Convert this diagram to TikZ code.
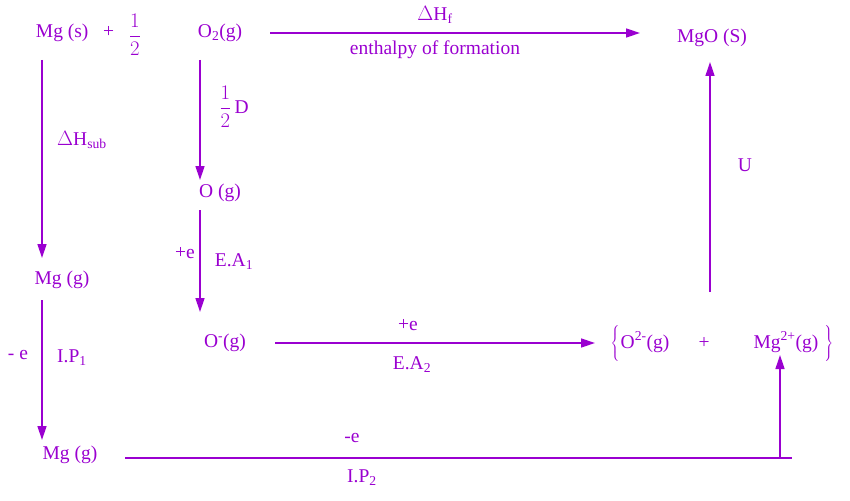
\documentclass[tikz,border=0pt]{standalone}
\usepackage{fontspec}
\setmainfont{Liberation Serif}
\usetikzlibrary{arrows.meta}
\definecolor{pu}{HTML}{9A00D0}
\begin{document}
\begin{tikzpicture}[x=1pt,y=-1pt,
  every node/.style={text=pu,font=\fontsize{19.5}{22}\selectfont,inner sep=1pt},
  arr/.style={draw=pu,line width=1.4pt,-{Triangle[length=14pt,width=9pt]}},
  ln/.style={draw=pu,line width=1.4pt}]
\useasboundingbox (0,0) rectangle (850,500);
\node (mgs) at (75,33) {Mg (s) \ \ +};
\node (half) at (135,35) {$\displaystyle\frac{1}{2}$};
\node (o2) at (220,33) {O\textsubscript{2}(g)};
\node (mgo) at (712,38) {MgO (S)};
\coordinate (a1) at (270,33); \coordinate (a2) at (640,33);
\draw[arr] (a1) -- (a2);
\node (dhf) at (435,15) {$\Delta$H\textsubscript{f}};
\node (enth) at (435,50) {enthalpy of formation};
\coordinate (m1) at (42,60); \coordinate (m2) at (42,258);
\draw[arr] (m1) -- (m2);
\node (dhs) at (82,140) {$\Delta$H\textsubscript{sub}};
\node (mgg1) at (62,280) {Mg (g)};
\coordinate (m3) at (42,300); \coordinate (m4) at (42,440);
\draw[arr] (m3) -- (m4);
\node (me) at (18,355) {- e};
\node (ip1) at (72,358) {I.P\textsubscript{1}};
\node (mgg2) at (70,455) {Mg (g)};
\coordinate (l1) at (125,458); \coordinate (l2) at (792,458); \coordinate (l3) at (780,458); \coordinate (l4) at (780,355);
\draw[ln] (l1) -- (l2);
\draw[arr] (l3) -- (l4);
\node (e2) at (352,438) {-e};
\node (ip2) at (362,478) {I.P\textsubscript{2}};
\coordinate (o1) at (200,60); \coordinate (o2b) at (200,180);
\draw[arr] (o1) -- (o2b);
\node (hd) at (234,107) {$\displaystyle\frac{1}{2}$\,D};
\node (og) at (220,193) {O (g)};
\coordinate (o3) at (200,210); \coordinate (o4) at (200,312);
\draw[arr] (o3) -- (o4);
\node (pe) at (185,253) {+e};
\node (ea1) at (234,262) {E.A\textsubscript{1}};
\node (om) at (225,343) {O\textsuperscript{-}(g)};
\coordinate (b1) at (275,343); \coordinate (b2) at (595,343);
\draw[arr] (b1) -- (b2);
\node (pe2) at (408,325) {+e};
\node (ea2) at (412,365) {E.A\textsubscript{2}};
\node (ions) at (722,343) {$\left\{\rule[-12pt]{0pt}{30pt}\right.$O\textsuperscript{2-}(g) \quad\ + \qquad Mg\textsuperscript{2+}(g) $\left.\rule[-12pt]{0pt}{30pt}\right\}$};
\coordinate (u1) at (710,292); \coordinate (u2) at (710,62);
\draw[arr] (u1) -- (u2);
\node (u) at (745,165) {U};
\end{tikzpicture}
\end{document}
